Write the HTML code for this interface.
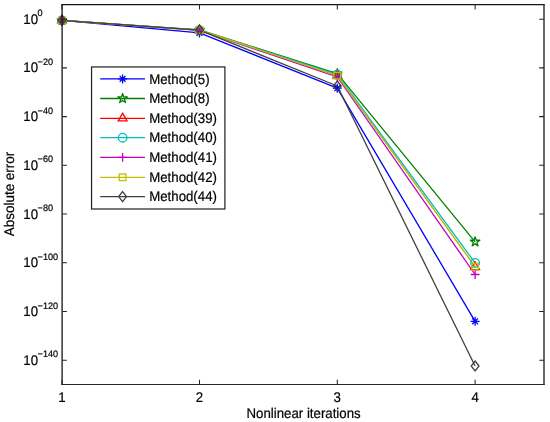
<!DOCTYPE html>
<html><head><meta charset="utf-8"><title>Absolute error vs nonlinear iterations</title>
<style>html,body{margin:0;padding:0;background:#fff}body{width:550px;height:422px;overflow:hidden}</style></head>
<body>
<svg width="550" height="422" viewBox="0 0 550 422" style="display:block;font-family:'Liberation Sans',Arial,Helvetica,sans-serif" text-rendering="geometricPrecision">
<rect width="550" height="422" fill="#fff"/>
<polyline points="62.00,20.40 199.50,32.90 337.30,88.20 475.10,321.30" fill="none" stroke="#0000ff" stroke-width="1.3" stroke-linejoin="round"/>
<polyline points="62.00,20.40 199.50,29.90 337.30,73.60 475.10,241.80" fill="none" stroke="#008000" stroke-width="1.3" stroke-linejoin="round"/>
<polyline points="62.00,20.40 199.50,30.10 337.30,75.70 475.10,266.80" fill="none" stroke="#ff0000" stroke-width="0.9" stroke-linejoin="round"/>
<polyline points="62.00,20.40 199.50,30.10 337.30,74.50 475.10,263.00" fill="none" stroke="#00bfbf" stroke-width="1.3" stroke-linejoin="round"/>
<polyline points="62.00,20.40 199.50,30.30 337.30,77.00 475.10,274.50" fill="none" stroke="#bf00bf" stroke-width="1.3" stroke-linejoin="round"/>
<polyline points="62.00,20.40 199.50,30.10 337.30,75.70 475.10,266.80" fill="none" stroke="#bfbf00" stroke-width="1.3" stroke-linejoin="round"/>
<polyline points="62.00,20.40 199.50,30.10 337.30,86.00 475.10,366.00" fill="none" stroke="#404040" stroke-width="1.3" stroke-linejoin="round"/>
<path d="M57.50 20.40H66.50M62.00 15.90V24.90M59.10 17.50L64.90 23.30M59.10 23.30L64.90 17.50" stroke="#0000ff" stroke-width="1.3" fill="none"/>
<path d="M195.00 32.90H204.00M199.50 28.40V37.40M196.60 30.00L202.40 35.80M196.60 35.80L202.40 30.00" stroke="#0000ff" stroke-width="1.3" fill="none"/>
<path d="M332.80 88.20H341.80M337.30 83.70V92.70M334.40 85.30L340.20 91.10M334.40 91.10L340.20 85.30" stroke="#0000ff" stroke-width="1.3" fill="none"/>
<path d="M470.60 321.30H479.60M475.10 316.80V325.80M472.20 318.40L478.00 324.20M472.20 324.20L478.00 318.40" stroke="#0000ff" stroke-width="1.3" fill="none"/>
<polygon points="62.00,15.40 63.12,18.85 66.76,18.85 63.82,20.99 64.94,24.45 62.00,22.31 59.06,24.45 60.18,20.99 57.24,18.85 60.88,18.85" stroke="#008000" stroke-width="1.3" fill="none" stroke-linejoin="round"/>
<polygon points="199.50,24.90 200.62,28.35 204.26,28.35 201.32,30.49 202.44,33.95 199.50,31.81 196.56,33.95 197.68,30.49 194.74,28.35 198.38,28.35" stroke="#008000" stroke-width="1.3" fill="none" stroke-linejoin="round"/>
<polygon points="337.30,68.60 338.42,72.05 342.06,72.05 339.12,74.19 340.24,77.65 337.30,75.51 334.36,77.65 335.48,74.19 332.54,72.05 336.18,72.05" stroke="#008000" stroke-width="1.3" fill="none" stroke-linejoin="round"/>
<polygon points="475.10,236.80 476.22,240.25 479.86,240.25 476.92,242.39 478.04,245.85 475.10,243.71 472.16,245.85 473.28,242.39 470.34,240.25 473.98,240.25" stroke="#008000" stroke-width="1.3" fill="none" stroke-linejoin="round"/>
<path d="M62.00 15.30L66.42 22.95L57.58 22.95Z" stroke="#ff0000" stroke-width="1.3" fill="none"/>
<path d="M199.50 25.00L203.92 32.65L195.08 32.65Z" stroke="#ff0000" stroke-width="1.3" fill="none"/>
<path d="M337.30 70.40L341.72 78.05L332.88 78.05Z" stroke="#ff0000" stroke-width="1.3" fill="none"/>
<path d="M475.10 261.90L479.52 269.55L470.68 269.55Z" stroke="#ff0000" stroke-width="1.3" fill="none"/>
<circle cx="62.00" cy="20.40" r="4.3" stroke="#00bfbf" stroke-width="1.3" fill="none"/>
<circle cx="199.50" cy="30.10" r="4.3" stroke="#00bfbf" stroke-width="1.3" fill="none"/>
<circle cx="337.30" cy="74.50" r="4.3" stroke="#00bfbf" stroke-width="1.3" fill="none"/>
<circle cx="475.10" cy="263.00" r="4.3" stroke="#00bfbf" stroke-width="1.3" fill="none"/>
<path d="M57.60 20.40H66.40M62.00 16.00V24.80" stroke="#bf00bf" stroke-width="1.3" fill="none"/>
<path d="M195.10 30.30H203.90M199.50 25.90V34.70" stroke="#bf00bf" stroke-width="1.3" fill="none"/>
<path d="M332.90 77.00H341.70M337.30 72.60V81.40" stroke="#bf00bf" stroke-width="1.3" fill="none"/>
<path d="M470.70 274.50H479.50M475.10 270.10V278.90" stroke="#bf00bf" stroke-width="1.3" fill="none"/>
<rect x="58.70" y="17.10" width="6.6" height="6.6" stroke="#bfbf00" stroke-width="1.3" fill="none"/>
<rect x="196.20" y="26.80" width="6.6" height="6.6" stroke="#bfbf00" stroke-width="1.3" fill="none"/>
<rect x="334.00" y="72.40" width="6.6" height="6.6" stroke="#bfbf00" stroke-width="1.3" fill="none"/>
<rect x="471.80" y="263.50" width="6.6" height="6.6" stroke="#bfbf00" stroke-width="1.3" fill="none"/>
<path d="M62.00 15.40L65.90 20.40L62.00 25.40L58.10 20.40Z" stroke="#404040" stroke-width="1.3" fill="none"/>
<path d="M199.50 25.10L203.40 30.10L199.50 35.10L195.60 30.10Z" stroke="#404040" stroke-width="1.3" fill="none"/>
<path d="M337.30 81.00L341.20 86.00L337.30 91.00L333.40 86.00Z" stroke="#404040" stroke-width="1.3" fill="none"/>
<path d="M475.10 361.00L479.00 366.00L475.10 371.00L471.20 366.00Z" stroke="#404040" stroke-width="1.3" fill="none"/>
<path d="M62.1 3.9999999999999996V385.1" stroke="#141414" stroke-width="1.3" fill="none"/>
<path d="M61.5 4.6H544.7" stroke="#141414" stroke-width="1.25" fill="none"/>
<path d="M61.5 384.5H544.7" stroke="#262626" stroke-width="1.2" fill="none"/>
<path d="M544.0 3.9999999999999996V385.1" stroke="#2a2a2a" stroke-width="1.4" fill="none"/>
<path d="M62.1 19.15h4.8M544.0 19.15h-4.8M62.1 67.88h4.8M544.0 67.88h-4.8M62.1 116.61h4.8M544.0 116.61h-4.8M62.1 165.34h4.8M544.0 165.34h-4.8M62.1 214.07h4.8M544.0 214.07h-4.8M62.1 262.80h4.8M544.0 262.80h-4.8M62.1 311.53h4.8M544.0 311.53h-4.8M62.1 360.26h4.8M544.0 360.26h-4.8M62.00 384.5v-4.8M62.00 4.6v4.8M199.50 384.5v-4.8M199.50 4.6v4.8M337.30 384.5v-4.8M337.30 4.6v4.8M475.10 384.5v-4.8M475.10 4.6v4.8" stroke="#262626" stroke-width="1.05" fill="none"/>
<text transform="translate(38.10,23.70) scale(0.946,1)" font-size="14" text-anchor="end" fill="#000" stroke="#000" stroke-width="0.2">10</text>
<text transform="translate(37.60,16.15) scale(0.97,1)" font-size="9.4" text-anchor="start" fill="#000" stroke="#000" stroke-width="0.2">0</text>
<text transform="translate(38.10,72.43) scale(0.946,1)" font-size="14" text-anchor="end" fill="#000" stroke="#000" stroke-width="0.2">10</text>
<text transform="translate(37.60,64.88) scale(0.97,1)" font-size="9.4" text-anchor="start" fill="#000" stroke="#000" stroke-width="0.2">−20</text>
<text transform="translate(38.10,121.16) scale(0.946,1)" font-size="14" text-anchor="end" fill="#000" stroke="#000" stroke-width="0.2">10</text>
<text transform="translate(37.60,113.61) scale(0.97,1)" font-size="9.4" text-anchor="start" fill="#000" stroke="#000" stroke-width="0.2">−40</text>
<text transform="translate(38.10,169.89) scale(0.946,1)" font-size="14" text-anchor="end" fill="#000" stroke="#000" stroke-width="0.2">10</text>
<text transform="translate(37.60,162.34) scale(0.97,1)" font-size="9.4" text-anchor="start" fill="#000" stroke="#000" stroke-width="0.2">−60</text>
<text transform="translate(38.10,218.62) scale(0.946,1)" font-size="14" text-anchor="end" fill="#000" stroke="#000" stroke-width="0.2">10</text>
<text transform="translate(37.60,211.07) scale(0.97,1)" font-size="9.4" text-anchor="start" fill="#000" stroke="#000" stroke-width="0.2">−80</text>
<text transform="translate(38.10,267.35) scale(0.946,1)" font-size="14" text-anchor="end" fill="#000" stroke="#000" stroke-width="0.2">10</text>
<text transform="translate(37.60,259.80) scale(0.97,1)" font-size="9.4" text-anchor="start" fill="#000" stroke="#000" stroke-width="0.2">−100</text>
<text transform="translate(38.10,316.08) scale(0.946,1)" font-size="14" text-anchor="end" fill="#000" stroke="#000" stroke-width="0.2">10</text>
<text transform="translate(37.60,308.53) scale(0.97,1)" font-size="9.4" text-anchor="start" fill="#000" stroke="#000" stroke-width="0.2">−120</text>
<text transform="translate(38.10,364.81) scale(0.946,1)" font-size="14" text-anchor="end" fill="#000" stroke="#000" stroke-width="0.2">10</text>
<text transform="translate(37.60,357.26) scale(0.97,1)" font-size="9.4" text-anchor="start" fill="#000" stroke="#000" stroke-width="0.2">−140</text>
<text transform="translate(62.00,401.50) scale(0.946,1)" font-size="14" text-anchor="middle" fill="#000" stroke="#000" stroke-width="0.2">1</text>
<text transform="translate(199.50,401.50) scale(0.946,1)" font-size="14" text-anchor="middle" fill="#000" stroke="#000" stroke-width="0.2">2</text>
<text transform="translate(337.30,401.50) scale(0.946,1)" font-size="14" text-anchor="middle" fill="#000" stroke="#000" stroke-width="0.2">3</text>
<text transform="translate(475.10,401.50) scale(0.946,1)" font-size="14" text-anchor="middle" fill="#000" stroke="#000" stroke-width="0.2">4</text>
<text transform="translate(303.60,418.10) scale(0.946,1)" font-size="14" text-anchor="middle" fill="#000" stroke="#000" stroke-width="0.2">Nonlinear iterations</text>
<text transform="translate(13.6,194.0) rotate(-90) scale(0.963,1)" font-size="14" text-anchor="middle" fill="#000" stroke="#000" stroke-width="0.2">Absolute error</text>
<rect x="91.55" y="66.95" width="133.35" height="142.05" fill="#fff" stroke="#202020" stroke-width="1.2"/>
<path d="M100.2 78.9H145" stroke="#0000ff" stroke-width="1.3" fill="none"/>
<path d="M118.10 78.90H127.10M122.60 74.40V83.40M119.70 76.00L125.50 81.80M119.70 81.80L125.50 76.00" stroke="#0000ff" stroke-width="1.3" fill="none"/>
<text transform="translate(149.20,83.60) scale(0.946,1)" font-size="14" text-anchor="start" fill="#000" stroke="#000" stroke-width="0.2">Method(5)</text>
<path d="M100.2 98.5H145" stroke="#008000" stroke-width="1.3" fill="none"/>
<polygon points="122.60,93.50 123.72,96.95 127.36,96.95 124.42,99.09 125.54,102.55 122.60,100.41 119.66,102.55 120.78,99.09 117.84,96.95 121.48,96.95" stroke="#008000" stroke-width="1.3" fill="none" stroke-linejoin="round"/>
<text transform="translate(149.20,103.20) scale(0.946,1)" font-size="14" text-anchor="start" fill="#000" stroke="#000" stroke-width="0.2">Method(8)</text>
<path d="M100.2 118.3H145" stroke="#ff0000" stroke-width="1.3" fill="none"/>
<path d="M122.60 113.20L127.02 120.85L118.18 120.85Z" stroke="#ff0000" stroke-width="1.3" fill="none"/>
<text transform="translate(149.20,123.00) scale(0.946,1)" font-size="14" text-anchor="start" fill="#000" stroke="#000" stroke-width="0.2">Method(39)</text>
<path d="M100.2 137.7H145" stroke="#00bfbf" stroke-width="1.3" fill="none"/>
<circle cx="122.60" cy="137.70" r="4.3" stroke="#00bfbf" stroke-width="1.3" fill="none"/>
<text transform="translate(149.20,142.40) scale(0.946,1)" font-size="14" text-anchor="start" fill="#000" stroke="#000" stroke-width="0.2">Method(40)</text>
<path d="M100.2 157.3H145" stroke="#bf00bf" stroke-width="1.3" fill="none"/>
<path d="M118.20 157.30H127.00M122.60 152.90V161.70" stroke="#bf00bf" stroke-width="1.3" fill="none"/>
<text transform="translate(149.20,162.00) scale(0.946,1)" font-size="14" text-anchor="start" fill="#000" stroke="#000" stroke-width="0.2">Method(41)</text>
<path d="M100.2 177.3H145" stroke="#bfbf00" stroke-width="1.3" fill="none"/>
<rect x="119.30" y="174.00" width="6.6" height="6.6" stroke="#bfbf00" stroke-width="1.3" fill="none"/>
<text transform="translate(149.20,182.00) scale(0.946,1)" font-size="14" text-anchor="start" fill="#000" stroke="#000" stroke-width="0.2">Method(42)</text>
<path d="M100.2 196.6H145" stroke="#404040" stroke-width="1.3" fill="none"/>
<path d="M122.60 191.60L126.50 196.60L122.60 201.60L118.70 196.60Z" stroke="#404040" stroke-width="1.3" fill="none"/>
<text transform="translate(149.20,201.30) scale(0.946,1)" font-size="14" text-anchor="start" fill="#000" stroke="#000" stroke-width="0.2">Method(44)</text>
</svg>
</body></html>
